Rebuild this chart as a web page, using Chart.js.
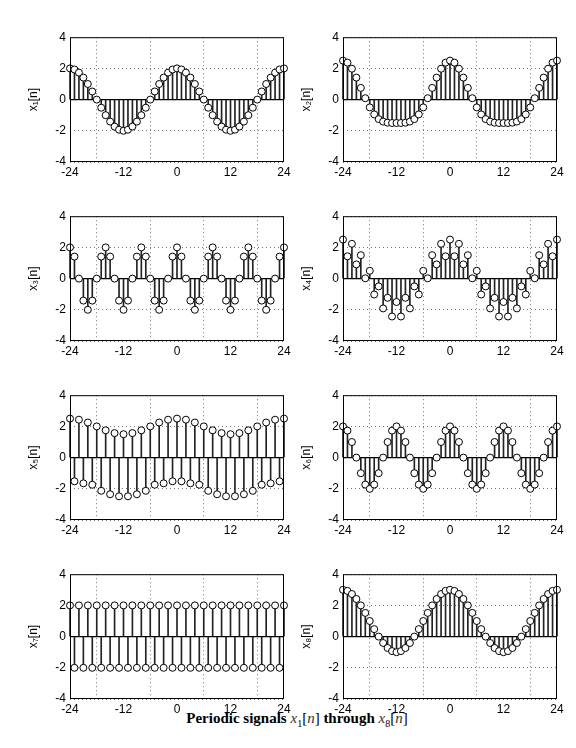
<!DOCTYPE html>
<html>
<head>
<meta charset="utf-8">
<script src="https://cdn.jsdelivr.net/npm/chart.js@4"></script>
<style>
  body { margin: 0; background: #fff; width: 576px; height: 748px; position: relative; overflow: hidden; }
  canvas { position: absolute; }
  #caption { position: absolute; left: 0; width: 594px; top: 710px; text-align: center;
    font-family: "Liberation Serif", "DejaVu Serif", serif; font-size: 15px; font-weight: bold; color: #000; }
  #caption i { font-weight: normal; color: #333; }
</style>
</head>
<body>
<div id="caption">Periodic signals <i>x</i><sub style="font-weight:normal;font-size:10px">1</sub><span style="font-weight:normal">[<i>n</i>]</span> through <i>x</i><sub style="font-weight:normal;font-size:10px">8</sub><span style="font-weight:normal">[<i>n</i>]</span></div>
<script>
// 샘플 인덱스 n = -24 .. 24
const nValues = [-24,-23,-22,-21,-20,-19,-18,-17,-16,-15,-14,-13,-12,-11,-10,-9,-8,-7,-6,-5,-4,-3,-2,-1,0,1,2,3,4,5,6,7,8,9,10,11,12,13,14,15,16,17,18,19,20,21,22,23,24];
const xTicks = [-24, -12, 0, 12, 24];
const yTicks = [-4, -2, 0, 2, 4];

// 신호 값
const x1 = [2,1.93,1.73,1.41,1,0.52,0,-0.52,-1,-1.41,-1.73,-1.93,-2,-1.93,-1.73,-1.41,-1,-0.52,0,0.52,1,1.41,1.73,1.93,
            2,1.93,1.73,1.41,1,0.52,0,-0.52,-1,-1.41,-1.73,-1.93,-2,-1.93,-1.73,-1.41,-1,-0.52,0,0.52,1,1.41,1.73,1.93,2];
const x2 = [2.5,2.37,1.98,1.41,0.75,0.09,-0.5,-0.95,-1.25,-1.41,-1.48,-1.5,-1.5,-1.5,-1.48,-1.41,-1.25,-0.95,-0.5,0.09,0.75,1.41,1.98,2.37,
            2.5,2.37,1.98,1.41,0.75,0.09,-0.5,-0.95,-1.25,-1.41,-1.48,-1.5,-1.5,-1.5,-1.48,-1.41,-1.25,-0.95,-0.5,0.09,0.75,1.41,1.98,2.37,2.5];
const x3 = [2,1.41,0,-1.41,-2,-1.41,0,1.41,2,1.41,0,-1.41,-2,-1.41,0,1.41,2,1.41,0,-1.41,-2,-1.41,0,1.41,
            2,1.41,0,-1.41,-2,-1.41,0,1.41,2,1.41,0,-1.41,-2,-1.41,0,1.41,2,1.41,0,-1.41,-2,-1.41,0,1.41,2];
const x4 = [2.5,1.43,2.23,0.91,1.5,0.02,0.5,-1.02,-0.5,-1.91,-1.23,-2.43,-1.5,-2.43,-1.23,-1.91,-0.5,-1.02,0.5,0.02,1.5,0.91,2.23,1.43,
            2.5,1.43,2.23,0.91,1.5,0.02,0.5,-1.02,-0.5,-1.91,-1.23,-2.43,-1.5,-2.43,-1.23,-1.91,-0.5,-1.02,0.5,0.02,1.5,0.91,2.23,1.43,2.5];
const x5 = [2.5,-1.52,2.43,-1.65,2.25,-1.74,2,-2.13,1.75,-2.35,1.57,-2.48,1.5,-2.48,1.57,-2.35,1.75,-2.13,2,-1.74,2.25,-1.65,2.43,-1.52,
            2.5,-1.52,2.43,-1.65,2.25,-1.74,2,-2.13,1.75,-2.35,1.57,-2.48,1.5,-2.48,1.57,-2.35,1.75,-2.13,2,-1.74,2.25,-1.65,2.43,-1.52,2.5];
const x6 = [2,1.73,1,0,-1,-1.73,-2,-1.73,-1,0,1,1.73,2,1.73,1,0,-1,-1.73,-2,-1.73,-1,0,1,1.73,
            2,1.73,1,0,-1,-1.73,-2,-1.73,-1,0,1,1.73,2,1.73,1,0,-1,-1.73,-2,-1.73,-1,0,1,1.73,2];
const x7 = [2,-2,2,-2,2,-2,2,-2,2,-2,2,-2,2,-2,2,-2,2,-2,2,-2,2,-2,2,-2,
            2,-2,2,-2,2,-2,2,-2,2,-2,2,-2,2,-2,2,-2,2,-2,2,-2,2,-2,2,-2,2];
const x8 = [3,2.93,2.73,2.41,2,1.52,1,0.48,0,-0.41,-0.73,-0.93,-1,-0.93,-0.73,-0.41,0,0.48,1,1.52,2,2.41,2.73,2.93,
            3,2.93,2.73,2.41,2,1.52,1,0.48,0,-0.41,-0.73,-0.93,-1,-0.93,-0.73,-0.41,0,0.48,1,1.52,2,2.41,2.73,2.93,3];

const signals = [x1, x2, x3, x4, x5, x6, x7, x8];
const labels = ['x₁[n]', 'x₂[n]', 'x₃[n]', 'x₄[n]', 'x₅[n]', 'x₆[n]', 'x₇[n]', 'x₈[n]'];

// 패널 위치 (플롯 영역 기준)
const colLeft = [70, 343];
const rowTop = [34, 213, 392, 571];
const plotW = 214, plotH = 128;
const padL = 44, padT = 8, padR = 10, padB = 20;

// 플롯 테두리
const framePlugin = {
    id: 'frame',
    afterDraw(chart) {
        const a = chart.chartArea, ctx = chart.ctx;
        ctx.save();
        ctx.strokeStyle = '#000';
        ctx.lineWidth = 1;
        ctx.strokeRect(a.left + 0.5, a.top + 0.5, a.right - a.left - 1, a.bottom - a.top - 1);
        ctx.restore();
    }
};

function makePanel(i) {
    const col = i % 2, row = Math.floor(i / 2);
    const canvas = document.createElement('canvas');
    canvas.width = plotW + padL + padR;
    canvas.height = plotH + padT + padB;
    canvas.style.left = (colLeft[col] - padL) + 'px';
    canvas.style.top = (rowTop[row] - padT) + 'px';
    canvas.style.width = canvas.width + 'px';
    canvas.style.height = canvas.height + 'px';
    document.body.appendChild(canvas);

    const pts = nValues.map((n, k) => ({ x: n, y: signals[i][k] }));

    new Chart(canvas.getContext('2d'), {
        data: {
            datasets: [
                { type: 'line', data: [{ x: -24, y: 0 }, { x: 24, y: 0 }], borderColor: '#000', borderWidth: 1.2, pointRadius: 0, order: 3 },
                { type: 'bar', data: pts, backgroundColor: '#222', barThickness: 1, order: 2, clip: false },
                { type: 'line', data: pts, showLine: false, pointRadius: 3.5, pointBackgroundColor: '#fff',
                  pointBorderColor: '#000', pointBorderWidth: 1, order: 1, clip: false }
            ]
        },
        options: {
            responsive: false,
            animation: false,
            devicePixelRatio: 1,
            layout: { padding: { top: padT, right: padR, left: 0, bottom: 0 } },
            plugins: { legend: { display: false }, tooltip: { enabled: false } },
            scales: {
                x: {
                    type: 'linear', min: -24, max: 24, offset: false,
                    afterBuildTicks: s => { s.ticks = xTicks.map(v => ({ value: v })); },
                    afterFit: s => { s.height = padB; },
                    grid: { color: '#777', drawTicks: false },
                    border: { display: false, dash: [1, 3] },
                    ticks: { color: '#000', font: { family: 'Liberation Sans', size: 12 }, padding: 3, maxRotation: 0 }
                },
                y: {
                    min: -4, max: 4,
                    afterBuildTicks: s => { s.ticks = yTicks.map(v => ({ value: v })); },
                    afterFit: s => { s.width = padL; },
                    grid: { color: '#777', drawTicks: false },
                    border: { display: false, dash: [1, 3] },
                    ticks: { color: '#000', font: { family: 'Liberation Sans', size: 12 }, padding: 4 },
                    title: { display: true, text: labels[i], color: '#000', padding: 0,
                             font: { family: 'Liberation Sans', size: 12 } }
                }
            }
        },
        plugins: [framePlugin]
    });
}

for (let i = 0; i < 8; i++) makePanel(i);
</script>
</body>
</html>
